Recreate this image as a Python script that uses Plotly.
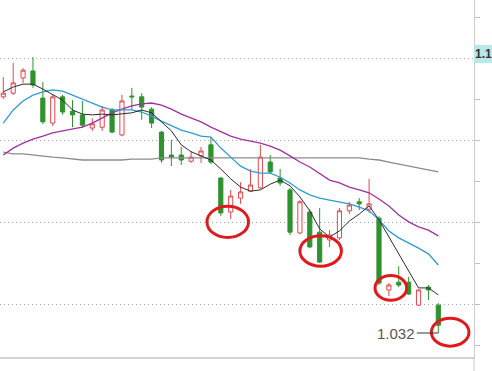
import plotly.graph_objects as go

# ---- data ----
days = list(range(45))

opens = [1.0896, 1.0905, 1.0942, 1.0959, 1.0893, 1.0832, 1.0896, 1.0861, 1.0852, 1.0820,
         1.0822, 1.0864, 1.0803, 1.0898, 1.0896, 1.0866, 1.0810, 1.0754, 1.0754, 1.0739,
         1.0752, 1.0779, 1.0698, 1.0615, 1.0649, 1.0666, 1.0674, 1.0737, 1.0698, 1.0669,
         1.0564, 1.0615, 1.0566, 1.0547, 1.0552, 1.0618, 1.0640, 1.0622, 1.0600, 1.0425,
         1.0444, 1.0444, 1.0388, 1.0432, 1.0388]
highs = [1.0944, 1.0979, 1.0966, 1.0993, 1.0932, 1.0901, 1.0901, 1.0888, 1.0886, 1.0844,
         1.0874, 1.0869, 1.0901, 1.0918, 1.0905, 1.0871, 1.0813, 1.0791, 1.0774, 1.0764,
         1.0774, 1.0798, 1.0700, 1.0669, 1.0688, 1.0720, 1.0779, 1.0754, 1.0720, 1.0674,
         1.0644, 1.0622, 1.0625, 1.0571, 1.0625, 1.0640, 1.0649, 1.0696, 1.0605, 1.0442,
         1.0483, 1.0457, 1.0427, 1.0437, 1.0393]
lows = [1.0891, 1.0901, 1.0930, 1.0918, 1.0830, 1.0825, 1.0852, 1.0822, 1.0820, 1.0813,
        1.0813, 1.0808, 1.0800, 1.0864, 1.0840, 1.0820, 1.0735, 1.0727, 1.0730, 1.0735,
        1.0735, 1.0732, 1.0605, 1.0598, 1.0635, 1.0664, 1.0671, 1.0708, 1.0679, 1.0559,
        1.0561, 1.0527, 1.0491, 1.0530, 1.0547, 1.0610, 1.0620, 1.0613, 1.0437, 1.0410,
        1.0432, 1.0413, 1.0386, 1.0400, 1.0320]
closes = [1.0905, 1.0930, 1.0961, 1.0925, 1.0835, 1.0896, 1.0859, 1.0852, 1.0827, 1.0830,
          1.0864, 1.0810, 1.0886, 1.0896, 1.0871, 1.0832, 1.0742, 1.0749, 1.0742, 1.0749,
          1.0764, 1.0737, 1.0613, 1.0654, 1.0664, 1.0681, 1.0749, 1.0713, 1.0686, 1.0566,
          1.0640, 1.0530, 1.0493, 1.0559, 1.0618, 1.0632, 1.0635, 1.0635, 1.0442, 1.0437,
          1.0437, 1.0415, 1.0425, 1.0425, 1.0339]

ma5 = [1.0908, 1.0920, 1.0927, 1.0927, 1.0915, 1.0901, 1.0888, 1.0864, 1.0854, 1.0852,
       1.0854, 1.0852, 1.0854, 1.0857, 1.0864, 1.0857, 1.0835, 1.0813, 1.0779, 1.0762,
       1.0752, 1.0742, 1.0720, 1.0696, 1.0676, 1.0666, 1.0669, 1.0683, 1.0693, 1.0679,
       1.0652, 1.0618, 1.0574, 1.0554, 1.0569, 1.0593, 1.0610, 1.0630, 1.0596, 1.0554,
       1.0513, 1.0471, 1.0430, 1.0430, 1.0413]
ma10 = [1.0832, 1.0864, 1.0886, 1.0900, 1.0908, 1.0913, 1.0910, 1.0900, 1.0891, 1.0881,
        1.0871, 1.0864, 1.0864, 1.0864, 1.0859, 1.0849, 1.0837, 1.0825, 1.0815, 1.0808,
        1.0800, 1.0798, 1.0771, 1.0749, 1.0727, 1.0715, 1.0710, 1.0710, 1.0700, 1.0686,
        1.0669, 1.0657, 1.0649, 1.0644, 1.0640, 1.0635, 1.0627, 1.0618, 1.0596, 1.0569,
        1.0552, 1.0540, 1.0527, 1.0513, 1.0486]
ma20 = [1.0754, 1.0771, 1.0783, 1.0793, 1.0800, 1.0808, 1.0813, 1.0818, 1.0822, 1.0832,
        1.0844, 1.0857, 1.0866, 1.0874, 1.0879, 1.0881, 1.0876, 1.0866, 1.0854, 1.0844,
        1.0835, 1.0822, 1.0810, 1.0800, 1.0793, 1.0788, 1.0783, 1.0776, 1.0766, 1.0752,
        1.0737, 1.0725, 1.0708, 1.0693, 1.0686, 1.0676, 1.0669, 1.0662, 1.0647, 1.0630,
        1.0608, 1.0591, 1.0579, 1.0571, 1.0557]
ma60 = [1.0761, 1.0757, 1.0757, 1.0754, 1.0752, 1.0749, 1.0747, 1.0744, 1.0742, 1.0742,
        1.0742, 1.0742, 1.0742, 1.0744, 1.0744, 1.0744, 1.0747, 1.0747, 1.0747, 1.0747,
        1.0747, 1.0747, 1.0747, 1.0747, 1.0747, 1.0747, 1.0747, 1.0747, 1.0747, 1.0747,
        1.0747, 1.0747, 1.0747, 1.0747, 1.0747, 1.0747, 1.0747, 1.0744, 1.0742, 1.0737,
        1.0732, 1.0727, 1.0722, 1.0718, 1.0713]

price_tag = "1.1"
price_tag_value = 1.100

# hand-drawn highlight ellipses: (center day, center price, half-width in days, half-height in price)
circles = [(22.7, 1.0591, 2.1, 0.0038),
           (32.1, 1.0520, 2.1, 0.0037),
           (39.2, 1.0430, 1.6, 0.0030),
           (45.2, 1.0322, 1.9, 0.0034)]

Y_MIN, Y_MAX = 1.02615, 1.11322

RED = "#e4474d"
GREEN = "#2e922e"

fig = go.Figure()
fig.add_trace(go.Candlestick(
    x=days, open=opens, high=highs, low=lows, close=closes,
    increasing=dict(line=dict(color=RED, width=1), fillcolor="white"),
    decreasing=dict(line=dict(color=GREEN, width=1), fillcolor=GREEN),
    whiskerwidth=0, showlegend=False, hoverinfo="skip"))

for vals, color, w in [(ma60, "#8c8c8c", 1.3), (ma20, "#a3309f", 1.3),
                       (ma10, "#2f9bd3", 1.3), (ma5, "#2b2b2b", 1.0)]:
    fig.add_trace(go.Scatter(x=days, y=vals, mode="lines",
                             line=dict(color=color, width=w),
                             showlegend=False, hoverinfo="skip"))

for cx, cy, hw, hh in circles:
    fig.add_shape(type="circle", xref="x", yref="y",
                  x0=cx - hw, x1=cx + hw, y0=cy - hh, y1=cy + hh,
                  line=dict(color="#e2191c", width=3), layer="above")

# right axis line continuing below the plot
fig.add_shape(type="line", xref="paper", yref="paper", x0=1, x1=1, y0=-0.05, y1=0,
              line=dict(color="#cccccc", width=1))

fig.add_annotation(x=days[-1], y=lows[-1], xref="x", yref="y",
                   text=f"{lows[-1]:.3f}", showarrow=True, arrowhead=0,
                   arrowwidth=1, arrowcolor="#333333", ax=-42, ay=0, standoff=0,
                   font=dict(size=15, color="#555555", family="Liberation Sans, Arial"))

# cyan price tag on the right axis
tag_frac = (price_tag_value - Y_MIN) / (Y_MAX - Y_MIN)
fig.add_annotation(x=1, xref="paper", y=tag_frac, yref="paper", xanchor="left",
                   yanchor="middle", text=f"<b>{price_tag}</b>", showarrow=False,
                   width=24, height=16, align="left", bgcolor="#b8e8e8",
                   borderpad=1, borderwidth=0,
                   font=dict(size=12, color="#333333", family="Liberation Sans, Arial"))

fig.update_layout(
    width=492, height=371,
    margin=dict(l=0, r=18, t=0, b=14, pad=0),
    paper_bgcolor="white", plot_bgcolor="white",
    boxgap=0.4, showlegend=False,
    xaxis=dict(range=[-0.334, 47.61], showgrid=False, zeroline=False,
               showticklabels=False, ticks="", showline=True,
               linecolor="#d4d4d4", linewidth=2,
               rangeslider=dict(visible=False)),
    yaxis=dict(range=[Y_MIN, Y_MAX], side="right", showgrid=True,
               gridcolor="#a8a8a8", griddash="1px,3px", gridwidth=1,
               tick0=1.039, dtick=0.02, ticks="outside", ticklen=5,
               tickcolor="#c0c0c0", showticklabels=False, showline=True,
               linecolor="#cccccc", linewidth=1, zeroline=False,
               minor=dict(dtick=0.01, tick0=1.029, ticks="outside", ticklen=5,
                          tickcolor="#c0c0c0", showgrid=False)),
)

fig.write_html("out.html")
